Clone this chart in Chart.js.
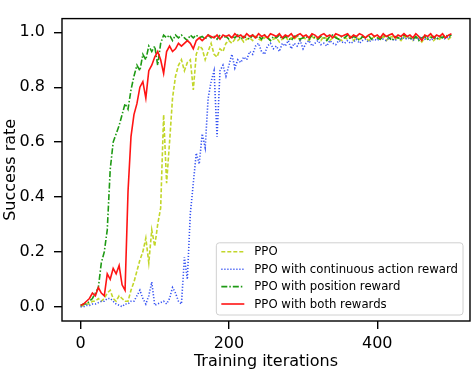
<!DOCTYPE html>
<html>
<head>
<meta charset="utf-8">
<script src="https://cdn.jsdelivr.net/npm/chart.js@4/dist/chart.umd.min.js"></script>
<style>
  html, body { margin: 0; padding: 0; background: #fff; }
  #wrap { width: 474px; height: 371px; }
</style>
</head>
<body>
<div id="wrap"><canvas id="c" width="474" height="371"></canvas></div>
<script>
const iterations = [
  0,4,8,12,16,20,24,28,32,36,
  40,44,48,52,56,60,64,68,72,76,
  80,84,88,92,96,100,104,108,112,116,
  120,124,128,132,136,140,144,148,152,156,
  160,164,168,172,176,180,184,188,192,196,
  200,204,208,212,216,220,224,228,232,236,
  240,244,248,252,256,260,264,268,272,276,
  280,284,288,292,296,300,304,308,312,316,
  320,324,328,332,336,340,344,348,352,356,
  360,364,368,372,376,380,384,388,392,396,
  400,404,408,412,416,420,424,428,432,436,
  440,444,448,452,456,460,464,468,472,476,
  480,484,488,492,496,500
];

const seriesLabels = [
  "PPO",
  "PPO with continuous action reward",
  "PPO with position reward",
  "PPO with both rewards"
];

const ppo = [
  0.00,0.005,0.01,0.01,0.02,0.02,0.03,0.02,0.03,0.05,
  0.06,0.03,0.02,0.04,0.03,0.02,0.02,0.06,0.09,0.13,
  0.17,0.20,0.25,0.16,0.28,0.22,0.30,0.36,0.70,0.45,
  0.60,0.76,0.84,0.88,0.90,0.86,0.89,0.90,0.79,0.92,
  0.95,0.94,0.90,0.93,0.96,0.92,0.91,0.94,0.93,0.96,
  0.97,0.96,0.975,0.97,0.98,0.965,0.975,0.98,0.97,0.985,
  0.975,0.97,0.98,0.985,0.97,0.975,0.98,0.965,0.975,0.985,
  0.97,0.98,0.975,0.985,0.97,0.98,0.975,0.97,0.985,0.975,
  0.98,0.97,0.985,0.975,0.97,0.98,0.985,0.975,0.97,0.98,
  0.975,0.985,0.97,0.98,0.975,0.985,0.98,0.97,0.975,0.985,
  0.98,0.975,0.985,0.97,0.98,0.985,0.975,0.98,0.97,0.985,
  0.975,0.98,0.97,0.985,0.975,0.965,0.98,0.975,0.985,0.97,
  0.98,0.975,0.985,0.98,0.975,0.985
];

const ppoAction = [
  0.00,0.00,0.005,0.005,0.01,0.01,0.015,0.02,0.02,0.03,
  0.03,0.02,0.01,0.005,0.00,0.01,0.01,0.02,0.02,0.04,
  0.06,0.03,0.01,0.04,0.09,0.005,0.01,0.015,0.02,0.01,
  0.03,0.07,0.05,0.02,0.01,0.18,0.10,0.34,0.45,0.56,
  0.52,0.63,0.58,0.76,0.82,0.86,0.62,0.86,0.88,0.84,
  0.88,0.92,0.87,0.90,0.89,0.91,0.90,0.93,0.92,0.95,
  0.96,0.93,0.92,0.95,0.96,0.94,0.95,0.93,0.96,0.95,
  0.97,0.94,0.96,0.95,0.97,0.94,0.96,0.97,0.95,0.96,
  0.97,0.955,0.96,0.95,0.97,0.96,0.955,0.97,0.965,0.96,
  0.97,0.96,0.965,0.975,0.96,0.97,0.975,0.965,0.97,0.975,
  0.97,0.98,0.975,0.97,0.98,0.975,0.97,0.98,0.975,0.98,
  0.975,0.98,0.97,0.98,0.975,0.985,0.975,0.98,0.97,0.98,
  0.975,0.985,0.98,0.975,0.985,0.98
];

const ppoPosition = [
  0.005,0.01,0.01,0.02,0.03,0.05,0.07,0.16,0.20,0.28,
  0.50,0.60,0.63,0.66,0.70,0.74,0.72,0.79,0.84,0.88,
  0.86,0.92,0.90,0.95,0.93,0.95,0.88,0.96,0.99,0.98,
  0.99,0.97,0.99,0.98,0.99,0.98,0.97,0.99,0.98,0.99,
  0.98,0.985,0.975,0.99,0.98,0.985,0.975,0.99,0.98,0.985,
  0.975,0.985,0.98,0.99,0.975,0.985,0.98,0.975,0.99,0.98,
  0.985,0.975,0.99,0.98,0.97,0.985,0.98,0.99,0.975,0.985,
  0.98,0.97,0.985,0.99,0.975,0.98,0.985,0.975,0.99,0.98,
  0.975,0.985,0.98,0.97,0.985,0.99,0.98,0.975,0.985,0.98,
  0.99,0.975,0.985,0.98,0.97,0.985,0.98,0.99,0.975,0.985,
  0.98,0.975,0.985,0.99,0.98,0.97,0.985,0.98,0.975,0.99,
  0.985,0.98,0.975,0.985,0.97,0.98,0.985,0.975,0.98,0.985,
  0.975,0.985,0.98,0.99,0.985,0.99
];

const ppoBoth = [
  0.005,0.01,0.02,0.03,0.05,0.04,0.07,0.05,0.04,0.12,
  0.10,0.14,0.12,0.15,0.08,0.06,0.42,0.62,0.70,0.74,
  0.80,0.82,0.76,0.86,0.88,0.91,0.93,0.90,0.85,0.93,
  0.95,0.93,0.94,0.96,0.95,0.96,0.97,0.96,0.94,0.97,
  0.98,0.97,0.98,0.99,0.985,0.98,0.99,0.975,0.99,0.985,
  0.99,0.98,0.995,0.985,0.99,0.98,0.995,0.985,0.99,0.98,
  0.995,0.985,0.99,0.98,0.995,0.99,0.985,0.995,0.98,0.99,
  0.985,0.995,0.98,0.99,0.995,0.985,0.99,0.98,0.995,0.99,
  0.98,0.99,0.995,0.985,0.99,0.98,0.995,0.99,0.985,0.99,
  0.995,0.98,0.99,0.985,0.995,0.99,0.98,0.99,0.995,0.985,
  0.99,0.98,0.995,0.985,0.99,0.995,0.98,0.99,0.985,0.995,
  0.985,0.99,0.98,0.995,0.985,0.97,0.99,0.985,0.995,0.98,
  0.99,0.985,0.995,0.98,0.99,0.995
];

const xTicks = [0, 200, 400];
const yTicks = [0.0, 0.2, 0.4, 0.6, 0.8, 1.0];

const toXY = (vals) => vals.map((v, i) => ({ x: iterations[i], y: v }));

const FONT = "'DejaVu Sans', 'Liberation Sans', sans-serif";

const framePlugin = {
  id: 'frame',
  afterDatasetsDraw(chart) {
    const { ctx, chartArea: a } = chart;
    ctx.save();
    ctx.strokeStyle = '#000';
    ctx.lineWidth = 1.4;
    ctx.strokeRect(a.left, a.top, a.right - a.left, a.bottom - a.top);
    ctx.restore();
  }
};

const legendPlugin = {
  id: 'mplLegend',
  afterDraw(chart) {
    const { ctx, chartArea: a } = chart;
    const ds = chart.data.datasets;
    ctx.save();
    ctx.font = "11.7px " + FONT;
    let maxW = 0;
    ds.forEach(d => { maxW = Math.max(maxW, ctx.measureText(d.label).width); });
    const padL = 5, handle = 23, gap = 10, padR = 5;
    const rowH = 17.4, padTop = 9, padBot = 11;
    const w = padL + handle + gap + maxW + padR;
    const h = padTop + rowH * (ds.length - 1) + padBot;
    const right = a.right - 7, bottom = a.bottom - 6;
    const left = right - w, top = bottom - h;
    const r = 3;
    ctx.beginPath();
    ctx.moveTo(left + r, top);
    ctx.lineTo(right - r, top);
    ctx.quadraticCurveTo(right, top, right, top + r);
    ctx.lineTo(right, bottom - r);
    ctx.quadraticCurveTo(right, bottom, right - r, bottom);
    ctx.lineTo(left + r, bottom);
    ctx.quadraticCurveTo(left, bottom, left, bottom - r);
    ctx.lineTo(left, top + r);
    ctx.quadraticCurveTo(left, top, left + r, top);
    ctx.closePath();
    ctx.fillStyle = 'rgba(255,255,255,0.8)';
    ctx.fill();
    ctx.strokeStyle = '#d0d0d0';
    ctx.lineWidth = 1;
    ctx.stroke();
    ds.forEach((d, i) => {
      const cy = top + padTop + i * rowH;
      ctx.beginPath();
      ctx.setLineDash(d.borderDash || []);
      ctx.strokeStyle = d.borderColor;
      ctx.lineWidth = d.borderWidth;
      ctx.moveTo(left + padL, cy);
      ctx.lineTo(left + padL + handle, cy);
      ctx.stroke();
      ctx.setLineDash([]);
      ctx.fillStyle = '#000';
      ctx.textBaseline = 'middle';
      ctx.textAlign = 'left';
      ctx.fillText(d.label, left + padL + handle + gap, cy + 0.5);
    });
    ctx.restore();
  }
};

const common = { pointRadius: 0, pointHoverRadius: 0, tension: 0, fill: false, borderWidth: 1.6 };

new Chart(document.getElementById('c'), {
  type: 'line',
  data: {
    datasets: [
      { ...common, label: seriesLabels[0], data: toXY(ppo), borderColor: '#c2d62a', borderDash: [4, 2], order: 4 },
      { ...common, label: seriesLabels[1], data: toXY(ppoAction), borderColor: '#3552f2', borderDash: [1.2, 1.8], order: 3 },
      { ...common, label: seriesLabels[2], data: toXY(ppoPosition), borderColor: '#1e9a14', borderDash: [6, 2, 1.5, 2], order: 2 },
      { ...common, label: seriesLabels[3], data: toXY(ppoBoth), borderColor: '#ff1414', order: 1 }
    ]
  },
  options: {
    responsive: false,
    animation: false,
    events: [],
    layout: { padding: { top: 4, right: 4, left: 0, bottom: 0 } },
    plugins: { legend: { display: false }, tooltip: { enabled: false }, title: { display: false } },
    scales: {
      x: {
        type: 'linear',
        min: -25, max: 525,
        afterFit: (s) => { s.height = 50; },
        afterBuildTicks: (s) => { s.ticks = xTicks.map(v => ({ value: v })); },
        border: { display: false },
        grid: { drawOnChartArea: false, drawTicks: true, tickLength: 8, color: '#000', lineWidth: 1.4 },
        ticks: { color: '#000', font: { family: FONT, size: 16 }, padding: 5, maxRotation: 0, callback: (v) => String(v) },
        title: { display: true, text: 'Training iterations', color: '#000', font: { family: FONT, size: 16 }, padding: { top: 0, bottom: 0 } }
      },
      y: {
        type: 'linear',
        min: -0.052, max: 1.05,
        afterFit: (s) => { s.width = 62; },
        afterBuildTicks: (s) => { s.ticks = yTicks.map(v => ({ value: v })); },
        border: { display: false },
        grid: { drawOnChartArea: false, drawTicks: true, tickLength: 8, color: '#000', lineWidth: 1.4 },
        ticks: { color: '#000', font: { family: FONT, size: 16 }, padding: 9, callback: (v) => Number(v).toFixed(1) },
        title: { display: true, text: 'Success rate', color: '#000', font: { family: FONT, size: 16 }, padding: { top: 1, bottom: 0 } }
      }
    }
  },
  plugins: [framePlugin, legendPlugin]
});
</script>
</body>
</html>
